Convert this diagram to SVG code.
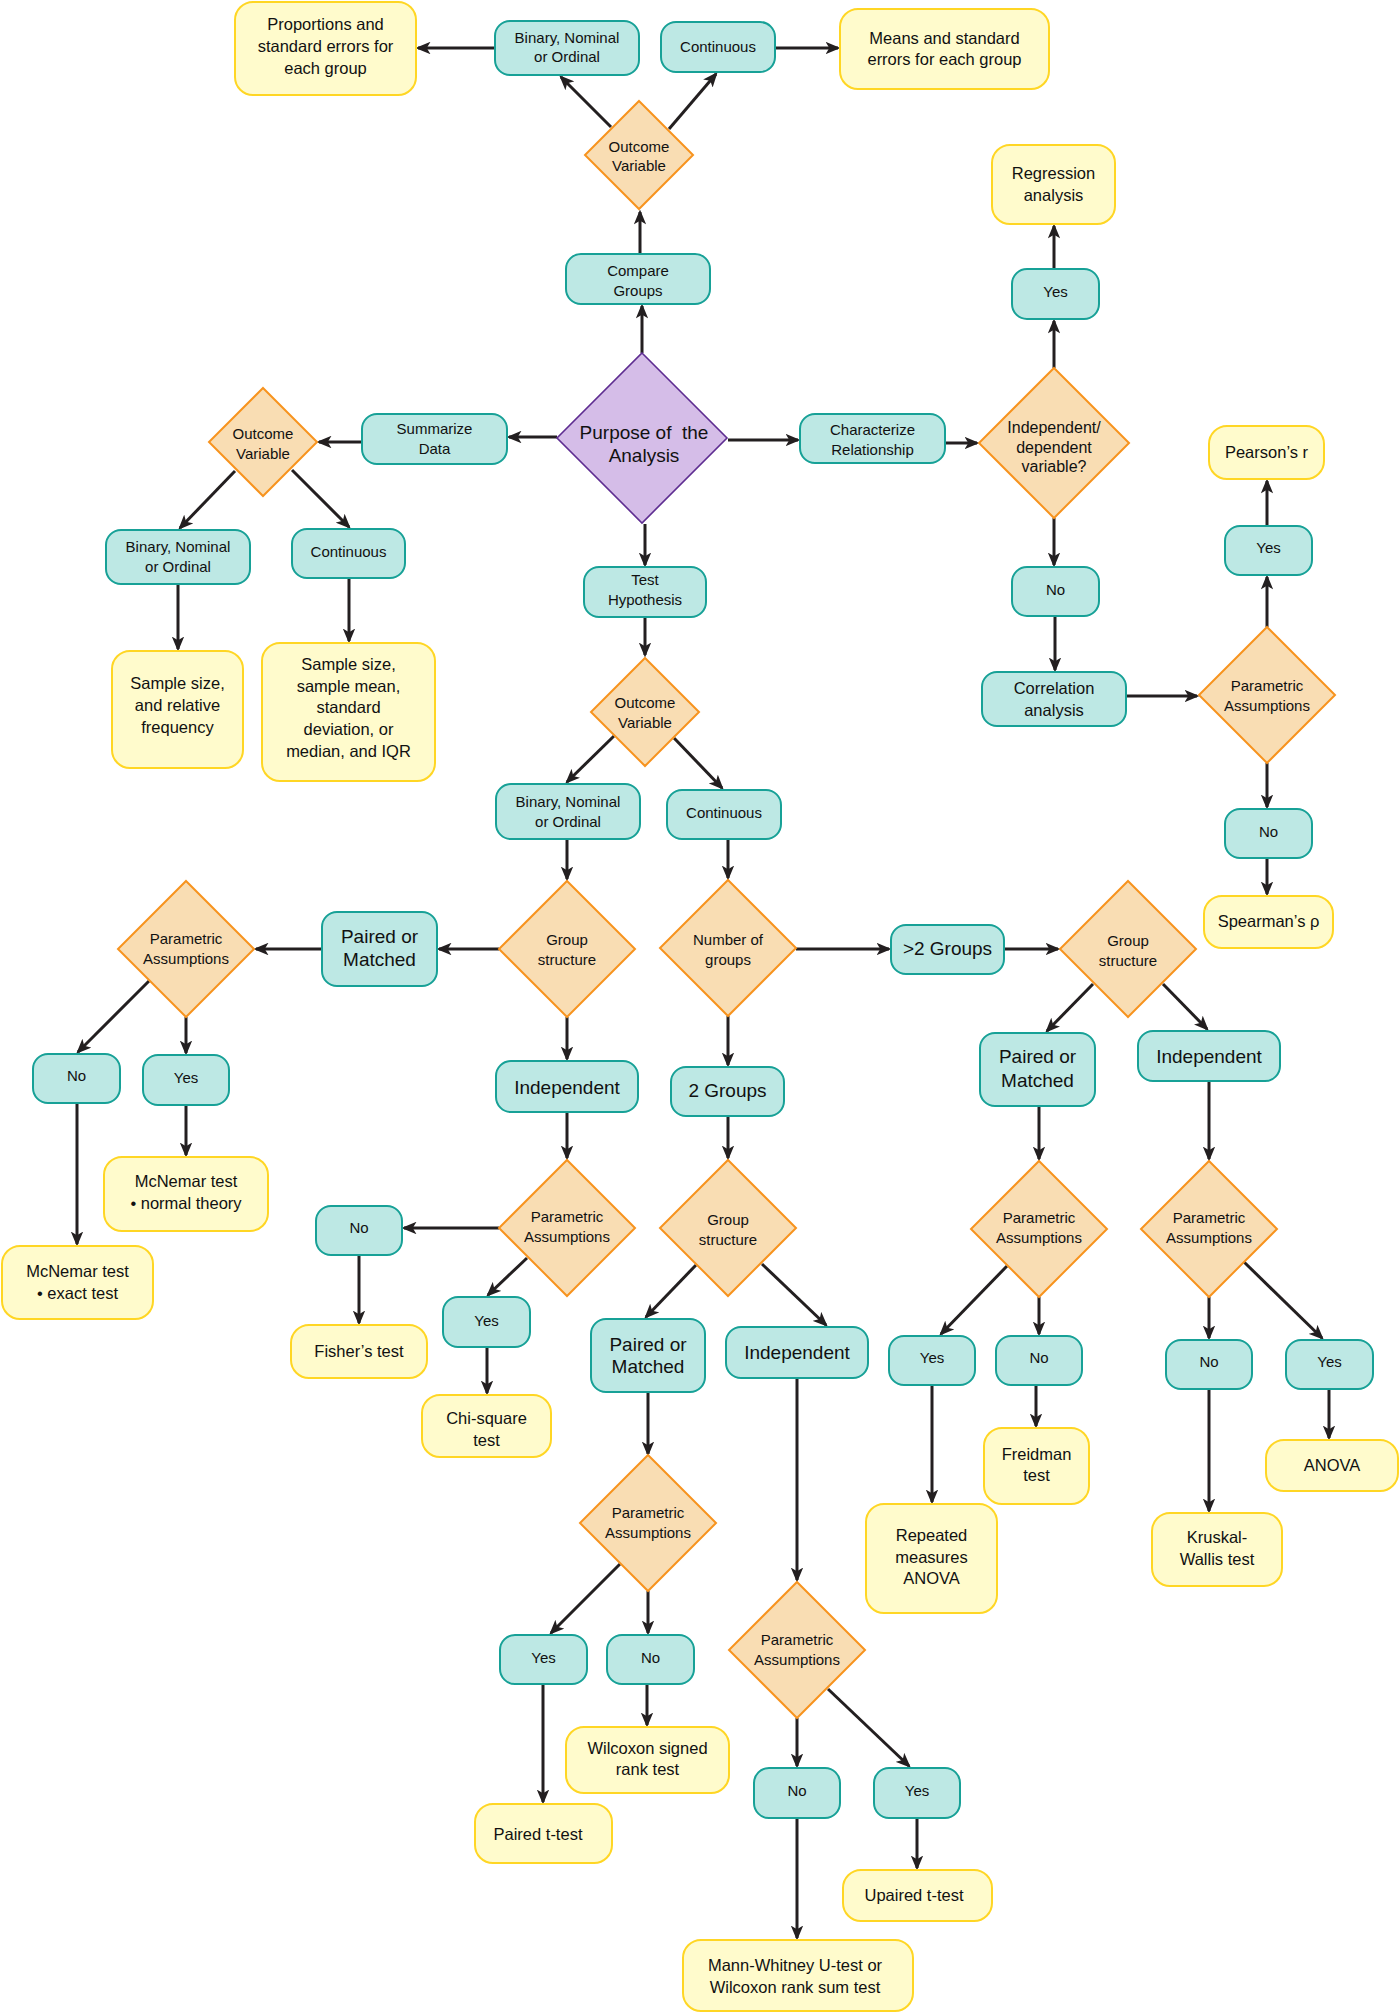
<svg xmlns="http://www.w3.org/2000/svg" width="1400" height="2014" viewBox="0 0 1400 2014">
<defs>
<style>
.t{fill:#BDE8E4;stroke:#17A197;stroke-width:2}
.y{fill:#FFFBCC;stroke:#FFD624;stroke-width:2}
.d{fill:#F9DDB3;stroke:#F7931E;stroke-width:2}
.p{fill:#D5BDE8;stroke:#5E2D91;stroke-width:1.6}
text{font-family:"Liberation Sans",Arial,sans-serif;fill:#111;text-anchor:middle}
.s{font-size:15px}
.m{font-size:16.5px}
.l{font-size:19px}
.c line{stroke:#231F20;stroke-width:3;marker-end:url(#ah)}
</style>
<marker id="ah" viewBox="0 0 12 10" markerWidth="15" markerHeight="12.5" refX="10" refY="5" orient="auto" markerUnits="userSpaceOnUse">
<path d="M0,0 L12,5 L0,10 L3,5 z" fill="#231F20"/>
</marker>
</defs>
<rect width="1400" height="2014" fill="#fff"/>

<g class="c" id="connectors">
<line x1="611" y1="127" x2="561" y2="77"/>
<line x1="669" y1="129" x2="716" y2="74"/>
<line x1="495" y1="48" x2="418" y2="48"/>
<line x1="775" y1="48" x2="838" y2="48"/>
<line x1="640" y1="254" x2="640" y2="212"/>
<line x1="642" y1="353" x2="642" y2="306"/>
<line x1="557" y1="437" x2="509" y2="437"/>
<line x1="362" y1="442" x2="319" y2="442"/>
<line x1="235" y1="471" x2="180" y2="528"/>
<line x1="292" y1="470" x2="349" y2="527"/>
<line x1="178" y1="584" x2="178" y2="649"/>
<line x1="349" y1="578" x2="349" y2="641"/>
<line x1="645" y1="524" x2="645" y2="565"/>
<line x1="645" y1="617" x2="645" y2="655"/>
<line x1="728" y1="440" x2="798" y2="440"/>
<line x1="945" y1="443" x2="977" y2="443"/>
<line x1="1054" y1="368" x2="1054" y2="321"/>
<line x1="1054" y1="269" x2="1054" y2="226"/>
<line x1="1054" y1="518" x2="1054" y2="565"/>
<line x1="1055" y1="616" x2="1055" y2="670"/>
<line x1="1126" y1="696" x2="1197" y2="696"/>
<line x1="1267" y1="627" x2="1267" y2="577"/>
<line x1="1267" y1="526" x2="1267" y2="481"/>
<line x1="1267" y1="763" x2="1267" y2="807"/>
<line x1="1267" y1="858" x2="1267" y2="894"/>
<line x1="614" y1="736" x2="567" y2="782"/>
<line x1="674" y1="738" x2="722" y2="788"/>
<line x1="567" y1="839" x2="567" y2="879"/>
<line x1="728" y1="839" x2="728" y2="878"/>
<line x1="499" y1="949" x2="439" y2="949"/>
<line x1="322" y1="949" x2="256" y2="949"/>
<line x1="149" y1="981" x2="78" y2="1052"/>
<line x1="186" y1="1017" x2="186" y2="1053"/>
<line x1="186" y1="1105" x2="186" y2="1155"/>
<line x1="77" y1="1103" x2="77" y2="1244"/>
<line x1="567" y1="1017" x2="567" y2="1059"/>
<line x1="567" y1="1112" x2="567" y2="1158"/>
<line x1="499" y1="1228" x2="404" y2="1228"/>
<line x1="359" y1="1255" x2="359" y2="1323"/>
<line x1="527" y1="1258" x2="488" y2="1295"/>
<line x1="487" y1="1347" x2="487" y2="1393"/>
<line x1="796" y1="949" x2="889" y2="949"/>
<line x1="1004" y1="949" x2="1058" y2="949"/>
<line x1="1093" y1="984" x2="1047" y2="1031"/>
<line x1="1163" y1="984" x2="1207" y2="1029"/>
<line x1="1039" y1="1106" x2="1039" y2="1159"/>
<line x1="1209" y1="1081" x2="1209" y2="1159"/>
<line x1="1007" y1="1266" x2="941" y2="1334"/>
<line x1="1039" y1="1297" x2="1039" y2="1334"/>
<line x1="1209" y1="1297" x2="1209" y2="1338"/>
<line x1="1244" y1="1262" x2="1322" y2="1338"/>
<line x1="932" y1="1385" x2="932" y2="1502"/>
<line x1="1036" y1="1385" x2="1036" y2="1426"/>
<line x1="1209" y1="1389" x2="1209" y2="1511"/>
<line x1="1329" y1="1389" x2="1329" y2="1438"/>
<line x1="728" y1="1016" x2="728" y2="1065"/>
<line x1="728" y1="1116" x2="728" y2="1158"/>
<line x1="696" y1="1265" x2="646" y2="1317"/>
<line x1="762" y1="1264" x2="826" y2="1325"/>
<line x1="648" y1="1392" x2="648" y2="1454"/>
<line x1="797" y1="1378" x2="797" y2="1580"/>
<line x1="620" y1="1564" x2="551" y2="1633"/>
<line x1="648" y1="1591" x2="648" y2="1633"/>
<line x1="543" y1="1684" x2="543" y2="1802"/>
<line x1="647" y1="1684" x2="647" y2="1725"/>
<line x1="797" y1="1718" x2="797" y2="1766"/>
<line x1="828" y1="1689" x2="909" y2="1766"/>
<line x1="917" y1="1818" x2="917" y2="1868"/>
<line x1="797" y1="1818" x2="797" y2="1938"/>
</g>

<g id="n_prop"><rect class="y" x="235" y="2" width="181" height="93" rx="18"/><text class="m" x="325.5" y="30">Proportions and</text><text class="m" x="325.5" y="52">standard errors for</text><text class="m" x="325.5" y="74">each group</text></g>
<g id="n_bin_top"><rect class="t" x="495" y="21" width="144" height="54" rx="15"/><text class="s" x="567" y="43">Binary, Nominal</text><text class="s" x="567" y="62">or Ordinal</text></g>
<g id="n_cont_top"><rect class="t" x="661" y="22" width="114" height="50" rx="15"/><text class="s" x="718" y="52">Continuous</text></g>
<g id="n_means"><rect class="y" x="840" y="9" width="209" height="80" rx="18"/><text class="m" x="944.5" y="44">Means and standard</text><text class="m" x="944.5" y="65">errors for each group</text></g>
<g id="n_out_top"><polygon class="d" points="639,101 693,155 639,209 585,155"/><text class="s" x="639" y="152">Outcome</text><text class="s" x="639" y="171">Variable</text></g>
<g id="n_compare"><rect class="t" x="566" y="254" width="144" height="50" rx="15"/><text class="s" x="638" y="276">Compare</text><text class="s" x="638" y="296">Groups</text></g>
<g id="n_purpose"><polygon class="p" points="642,353 727,438 642,523 557,438"/><text class="l" x="644" y="439" style="white-space:pre">Purpose of  the</text><text class="l" x="644" y="462">Analysis</text></g>
<g id="n_summ"><rect class="t" x="362" y="414" width="145" height="50" rx="15"/><text class="s" x="434.5" y="434">Summarize</text><text class="s" x="434.5" y="454">Data</text></g>
<g id="n_out_left"><polygon class="d" points="263,388 317,442 263,496 209,442"/><text class="s" x="263" y="439">Outcome</text><text class="s" x="263" y="459">Variable</text></g>
<g id="n_bin_left"><rect class="t" x="106" y="530" width="144" height="54" rx="15"/><text class="s" x="178" y="552">Binary, Nominal</text><text class="s" x="178" y="572">or Ordinal</text></g>
<g id="n_cont_left"><rect class="t" x="292" y="529" width="113" height="49" rx="15"/><text class="s" x="348.5" y="557">Continuous</text></g>
<g id="n_samp1"><rect class="y" x="112" y="651" width="131" height="117" rx="18"/><text class="m" x="177.5" y="689">Sample size,</text><text class="m" x="177.5" y="711">and relative</text><text class="m" x="177.5" y="733">frequency</text></g>
<g id="n_samp2"><rect class="y" x="262" y="643" width="173" height="138" rx="18"/><text class="m" x="348.5" y="670">Sample size,</text><text class="m" x="348.5" y="692">sample mean,</text><text class="m" x="348.5" y="713">standard</text><text class="m" x="348.5" y="735">deviation, or</text><text class="m" x="348.5" y="757">median, and IQR</text></g>
<g id="n_test"><rect class="t" x="584" y="567" width="122" height="50" rx="15"/><text class="s" x="645" y="585">Test</text><text class="s" x="645" y="605">Hypothesis</text></g>
<g id="n_out_mid"><polygon class="d" points="645,658 699,712 645,766 591,712"/><text class="s" x="645" y="708">Outcome</text><text class="s" x="645" y="728">Variable</text></g>
<g id="n_char"><rect class="t" x="800" y="414" width="145" height="49" rx="15"/><text class="s" x="872.5" y="435">Characterize</text><text class="s" x="872.5" y="455">Relationship</text></g>
<g id="n_indep_q"><polygon class="d" points="1054,368 1129,443 1054,518 979,443"/><text class="s" x="1054" y="433" style="font-size:16px">Independent/</text><text class="s" x="1054" y="453" style="font-size:16px">dependent</text><text class="s" x="1054" y="472" style="font-size:16px">variable?</text></g>
<g id="n_yes_reg"><rect class="t" x="1012" y="269" width="87" height="50" rx="15"/><text class="s" x="1055.5" y="297">Yes</text></g>
<g id="n_reg"><rect class="y" x="992" y="145" width="123" height="79" rx="18"/><text class="m" x="1053.5" y="179">Regression</text><text class="m" x="1053.5" y="201">analysis</text></g>
<g id="n_no_corr"><rect class="t" x="1012" y="567" width="87" height="49" rx="15"/><text class="s" x="1055.5" y="595">No</text></g>
<g id="n_corr"><rect class="t" x="982" y="672" width="144" height="54" rx="15"/><text class="m" x="1054" y="694">Correlation</text><text class="m" x="1054" y="716">analysis</text></g>
<g id="n_pa_corr"><polygon class="d" points="1267,627 1335,695 1267,763 1199,695"/><text class="s" x="1267" y="691">Parametric</text><text class="s" x="1267" y="711">Assumptions</text></g>
<g id="n_yes_p"><rect class="t" x="1225" y="526" width="87" height="49" rx="15"/><text class="s" x="1268.5" y="553">Yes</text></g>
<g id="n_pearson"><rect class="y" x="1209" y="426" width="115" height="53" rx="18"/><text class="m" x="1266.5" y="458">Pearson’s r</text></g>
<g id="n_no_s"><rect class="t" x="1225" y="809" width="87" height="49" rx="15"/><text class="s" x="1268.5" y="837">No</text></g>
<g id="n_spearman"><rect class="y" x="1204" y="896" width="129" height="52" rx="18"/><text class="m" x="1268.5" y="927">Spearman’s ρ</text></g>
<g id="n_bin_mid"><rect class="t" x="496" y="784" width="144" height="55" rx="15"/><text class="s" x="568" y="807">Binary, Nominal</text><text class="s" x="568" y="827">or Ordinal</text></g>
<g id="n_cont_mid"><rect class="t" x="667" y="790" width="114" height="49" rx="15"/><text class="s" x="724" y="818">Continuous</text></g>
<g id="n_gs1"><polygon class="d" points="567,881 635,949 567,1017 499,949"/><text class="s" x="567" y="945">Group</text><text class="s" x="567" y="965">structure</text></g>
<g id="n_pm1"><rect class="t" x="322" y="912" width="115" height="74" rx="15"/><text class="l" x="379.5" y="943">Paired or</text><text class="l" x="379.5" y="966">Matched</text></g>
<g id="n_pa1"><polygon class="d" points="186,881 254,949 186,1017 118,949"/><text class="s" x="186" y="944">Parametric</text><text class="s" x="186" y="964">Assumptions</text></g>
<g id="n_no1"><rect class="t" x="33" y="1054" width="87" height="49" rx="15"/><text class="s" x="76.5" y="1081">No</text></g>
<g id="n_yes1"><rect class="t" x="143" y="1055" width="86" height="50" rx="15"/><text class="s" x="186" y="1083">Yes</text></g>
<g id="n_mcn1"><rect class="y" x="104" y="1157" width="164" height="74" rx="18"/><text class="m" x="186" y="1187">McNemar test</text><text class="m" x="186" y="1209">• normal theory</text></g>
<g id="n_mcn2"><rect class="y" x="2" y="1246" width="151" height="73" rx="18"/><text class="m" x="77.5" y="1277">McNemar test</text><text class="m" x="77.5" y="1299">• exact test</text></g>
<g id="n_ind1"><rect class="t" x="496" y="1061" width="142" height="51" rx="15"/><text class="l" x="567" y="1094">Independent</text></g>
<g id="n_pa2"><polygon class="d" points="567,1160 635,1228 567,1296 499,1228"/><text class="s" x="567" y="1222">Parametric</text><text class="s" x="567" y="1242">Assumptions</text></g>
<g id="n_no2"><rect class="t" x="316" y="1206" width="86" height="49" rx="15"/><text class="s" x="359" y="1233">No</text></g>
<g id="n_fisher"><rect class="y" x="291" y="1325" width="136" height="53" rx="18"/><text class="m" x="359" y="1357">Fisher’s test</text></g>
<g id="n_yes2"><rect class="t" x="443" y="1297" width="87" height="50" rx="15"/><text class="s" x="486.5" y="1326">Yes</text></g>
<g id="n_chi"><rect class="y" x="422" y="1395" width="129" height="62" rx="18"/><text class="m" x="486.5" y="1424">Chi-square</text><text class="m" x="486.5" y="1446">test</text></g>
<g id="n_numg"><polygon class="d" points="728,880 796,948 728,1016 660,948"/><text class="s" x="728" y="945">Number of</text><text class="s" x="728" y="965">groups</text></g>
<g id="n_gt2"><rect class="t" x="891" y="925" width="113" height="49" rx="15"/><text class="l" x="947.5" y="955">&gt;2 Groups</text></g>
<g id="n_gs3"><polygon class="d" points="1128,881 1196,949 1128,1017 1060,949"/><text class="s" x="1128" y="946">Group</text><text class="s" x="1128" y="966">structure</text></g>
<g id="n_pm3"><rect class="t" x="980" y="1033" width="115" height="73" rx="15"/><text class="l" x="1037.5" y="1063">Paired or</text><text class="l" x="1037.5" y="1087">Matched</text></g>
<g id="n_ind3"><rect class="t" x="1138" y="1031" width="142" height="50" rx="15"/><text class="l" x="1209" y="1063">Independent</text></g>
<g id="n_pa5"><polygon class="d" points="1039,1161 1107,1229 1039,1297 971,1229"/><text class="s" x="1039" y="1223">Parametric</text><text class="s" x="1039" y="1243">Assumptions</text></g>
<g id="n_pa6"><polygon class="d" points="1209,1161 1277,1229 1209,1297 1141,1229"/><text class="s" x="1209" y="1223">Parametric</text><text class="s" x="1209" y="1243">Assumptions</text></g>
<g id="n_yes5"><rect class="t" x="889" y="1336" width="86" height="49" rx="15"/><text class="s" x="932" y="1363">Yes</text></g>
<g id="n_no5"><rect class="t" x="996" y="1336" width="86" height="49" rx="15"/><text class="s" x="1039" y="1363">No</text></g>
<g id="n_no6"><rect class="t" x="1166" y="1340" width="86" height="49" rx="15"/><text class="s" x="1209" y="1367">No</text></g>
<g id="n_yes6"><rect class="t" x="1286" y="1340" width="87" height="49" rx="15"/><text class="s" x="1329.5" y="1367">Yes</text></g>
<g id="n_rm"><rect class="y" x="866" y="1504" width="131" height="109" rx="18"/><text class="m" x="931.5" y="1541">Repeated</text><text class="m" x="931.5" y="1563">measures</text><text class="m" x="931.5" y="1584">ANOVA</text></g>
<g id="n_fried"><rect class="y" x="984" y="1428" width="105" height="76" rx="18"/><text class="m" x="1036.5" y="1460">Freidman</text><text class="m" x="1036.5" y="1481">test</text></g>
<g id="n_kw"><rect class="y" x="1152" y="1513" width="130" height="73" rx="18"/><text class="m" x="1217" y="1543">Kruskal-</text><text class="m" x="1217" y="1565">Wallis test</text></g>
<g id="n_anova"><rect class="y" x="1266" y="1440" width="132" height="51" rx="18"/><text class="m" x="1332" y="1471">ANOVA</text></g>
<g id="n_2g"><rect class="t" x="671" y="1067" width="113" height="49" rx="15"/><text class="l" x="727.5" y="1097">2 Groups</text></g>
<g id="n_gs2"><polygon class="d" points="728,1160 796,1228 728,1296 660,1228"/><text class="s" x="728" y="1225">Group</text><text class="s" x="728" y="1245">structure</text></g>
<g id="n_pm2"><rect class="t" x="591" y="1319" width="114" height="73" rx="15"/><text class="l" x="648" y="1351">Paired or</text><text class="l" x="648" y="1373">Matched</text></g>
<g id="n_ind2"><rect class="t" x="726" y="1327" width="142" height="51" rx="15"/><text class="l" x="797" y="1359">Independent</text></g>
<g id="n_pa3"><polygon class="d" points="648,1455 716,1523 648,1591 580,1523"/><text class="s" x="648" y="1518">Parametric</text><text class="s" x="648" y="1538">Assumptions</text></g>
<g id="n_pa4"><polygon class="d" points="797,1582 865,1650 797,1718 729,1650"/><text class="s" x="797" y="1645">Parametric</text><text class="s" x="797" y="1665">Assumptions</text></g>
<g id="n_yes3"><rect class="t" x="500" y="1635" width="87" height="49" rx="15"/><text class="s" x="543.5" y="1663">Yes</text></g>
<g id="n_no3"><rect class="t" x="607" y="1635" width="87" height="49" rx="15"/><text class="s" x="650.5" y="1663">No</text></g>
<g id="n_pt"><rect class="y" x="475" y="1804" width="137" height="59" rx="18"/><text class="m" x="538" y="1840">Paired t-test</text></g>
<g id="n_wsr"><rect class="y" x="566" y="1727" width="163" height="66" rx="18"/><text class="m" x="647.5" y="1754">Wilcoxon signed</text><text class="m" x="647.5" y="1775">rank test</text></g>
<g id="n_no4"><rect class="t" x="754" y="1768" width="86" height="50" rx="15"/><text class="s" x="797" y="1796">No</text></g>
<g id="n_yes4"><rect class="t" x="874" y="1768" width="86" height="50" rx="15"/><text class="s" x="917" y="1796">Yes</text></g>
<g id="n_ut"><rect class="y" x="843" y="1870" width="149" height="51" rx="18"/><text class="m" x="914" y="1901">Upaired t-test</text></g>
<g id="n_mw"><rect class="y" x="683" y="1940" width="230" height="71" rx="18"/><text class="m" x="795" y="1971">Mann-Whitney U-test or</text><text class="m" x="795" y="1993">Wilcoxon rank sum test</text></g>
</svg>
